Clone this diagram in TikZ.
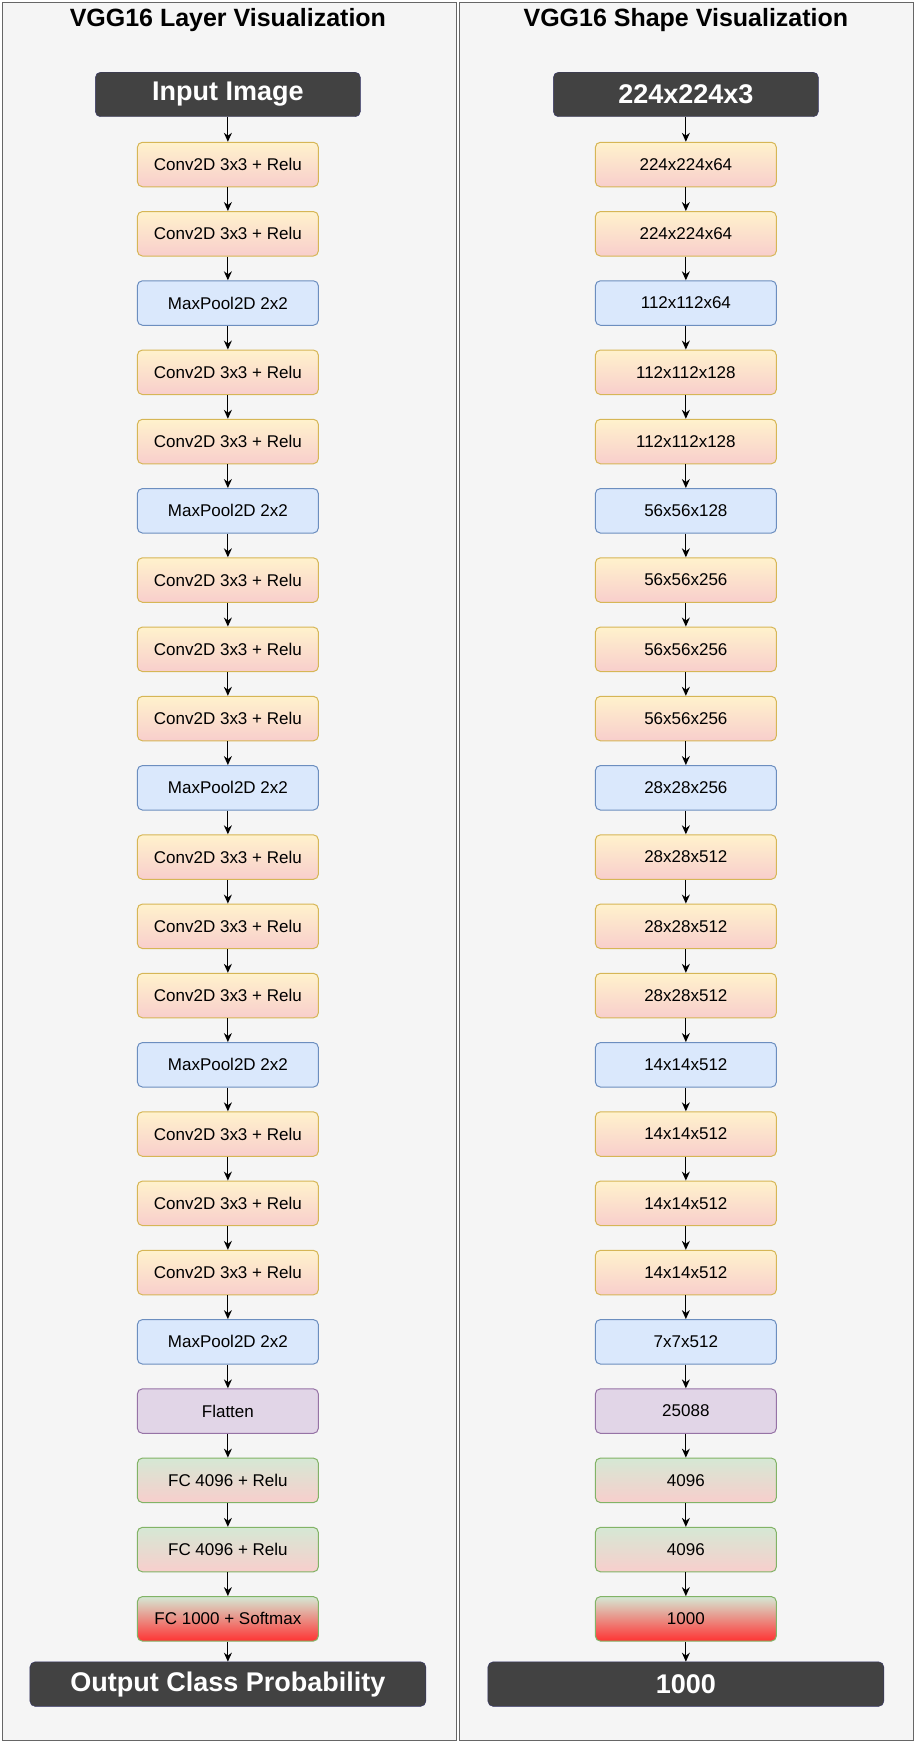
\documentclass[tikz,border=0pt]{standalone}
\usepackage{fontspec}
\setmainfont{Liberation Sans}
\usetikzlibrary{positioning, arrows.meta}
\definecolor{panelbg}{HTML}{F5F5F5}
\definecolor{panelline}{HTML}{666666}
\definecolor{darkfill}{HTML}{424242}
\tikzset{
    layer/.style={draw, rounded corners=5pt, line width=1pt, minimum width=181pt,
        minimum height=44.5pt, inner sep=0pt, font=\fontsize{17}{17}\selectfont},
    convbox/.style={layer, draw={rgb,255:red,214;green,182;blue,86},
        top color={rgb,255:red,255;green,242;blue,204}, bottom color={rgb,255:red,248;green,206;blue,204}},
    poolbox/.style={layer, draw={rgb,255:red,108;green,142;blue,191}, fill={rgb,255:red,218;green,232;blue,252}},
    flatbox/.style={layer, draw={rgb,255:red,150;green,115;blue,166}, fill={rgb,255:red,225;green,213;blue,231}},
    fcbox/.style={layer, draw={rgb,255:red,130;green,179;blue,102},
        top color={rgb,255:red,213;green,232;blue,212}, bottom color={rgb,255:red,248;green,206;blue,204}},
    smaxbox/.style={layer, draw={rgb,255:red,130;green,179;blue,102},
        top color={rgb,255:red,213;green,232;blue,212}, bottom color={rgb,255:red,255;green,51;blue,51}},
    darkbox/.style={draw=darkfill!80!blue, fill=darkfill, rounded corners=5pt, minimum height=44.5pt,
        inner sep=0pt, text=white, font=\bfseries\fontsize{27}{27}\selectfont},
    flow/.style={-{Stealth[length=9pt,width=8pt]}, line width=1.2pt},
    title/.style={font=\bfseries\fontsize{25}{25}\selectfont}
}
\begin{document}
\begin{tikzpicture}[x=1.112pt, y=-1.112pt]
    \useasboundingbox (0,0) rectangle (823,1568);
    % panels
    \draw[fill=panelbg, draw=panelline, line width=1.2pt] (2,2) rectangle (411,1566);
    \draw[fill=panelbg, draw=panelline, line width=1.2pt] (413,2) rectangle (822,1566);
    \node[title] (ltitle) at (205,18) {VGG16 Layer Visualization};
    \node[title] (rtitle) at (617,18) {VGG16 Shape Visualization};
    % inputs
    \node[darkbox, minimum width=265pt] (L0) at (205,85) {Input Image};
    \node[darkbox, minimum width=265pt] (R0) at (617,85) {224x224x3};
    % layers
    \foreach [count=\i, remember=\i as \j (initially 0)] \kind/\ltxt/\rtxt in {
        convbox/Conv2D 3x3 + Relu/224x224x64,
        convbox/Conv2D 3x3 + Relu/224x224x64,
        poolbox/MaxPool2D 2x2/112x112x64,
        convbox/Conv2D 3x3 + Relu/112x112x128,
        convbox/Conv2D 3x3 + Relu/112x112x128,
        poolbox/MaxPool2D 2x2/56x56x128,
        convbox/Conv2D 3x3 + Relu/56x56x256,
        convbox/Conv2D 3x3 + Relu/56x56x256,
        convbox/Conv2D 3x3 + Relu/56x56x256,
        poolbox/MaxPool2D 2x2/28x28x256,
        convbox/Conv2D 3x3 + Relu/28x28x512,
        convbox/Conv2D 3x3 + Relu/28x28x512,
        convbox/Conv2D 3x3 + Relu/28x28x512,
        poolbox/MaxPool2D 2x2/14x14x512,
        convbox/Conv2D 3x3 + Relu/14x14x512,
        convbox/Conv2D 3x3 + Relu/14x14x512,
        convbox/Conv2D 3x3 + Relu/14x14x512,
        poolbox/MaxPool2D 2x2/7x7x512,
        flatbox/Flatten/25088,
        fcbox/FC 4096 + Relu/4096,
        fcbox/FC 4096 + Relu/4096,
        smaxbox/FC 1000 + Softmax/1000} {
        \node[\kind] (L\i) at (205,85.7+62.3*\i) {\ltxt};
        \node[\kind] (R\i) at (617,85.7+62.3*\i) {\rtxt};
        \draw[flow] (L\j) -- (L\i);
        \draw[flow] (R\j) -- (R\i);
    }
    % outputs
    \node[darkbox, minimum width=396pt] (Lout) at (205,1515) {Output Class Probability};
    \node[darkbox, minimum width=396pt] (Rout) at (617,1515) {1000};
    \draw[flow] (L22) -- (Lout);
    \draw[flow] (R22) -- (Rout);
\end{tikzpicture}
\end{document}
